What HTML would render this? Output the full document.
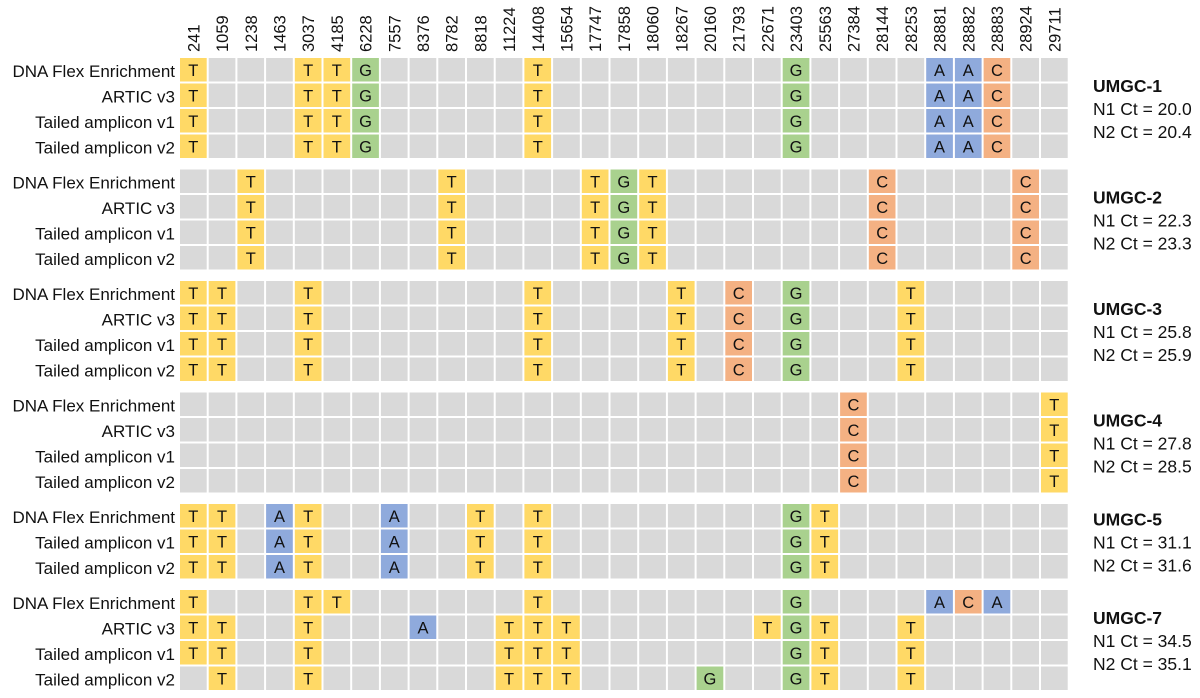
<!DOCTYPE html>
<html><head><meta charset="utf-8"><style>
body{margin:0;background:#fff;}
svg{display:block;font-family:"Liberation Sans",Arial,sans-serif;}
</style></head><body>
<svg id="chart" width="1200" height="698"></svg>
<script>
const positions=[241,1059,1238,1463,3037,4185,6228,7557,8376,8782,8818,11224,14408,15654,17747,17858,18060,18267,20160,21793,22671,23403,25563,27384,28144,28253,28881,28882,28883,28924,29711];
const sampleNames=["UMGC-1","UMGC-2","UMGC-3","UMGC-4","UMGC-5","UMGC-7"];
const n1Ct=["20.0","22.3","25.8","27.8","31.1","34.5"];
const n2Ct=["20.4","23.3","25.9","28.5","31.6","35.1"];
const methodsStd=["DNA Flex Enrichment","ARTIC v3","Tailed amplicon v1","Tailed amplicon v2"];
const methods5=["DNA Flex Enrichment","Tailed amplicon v1","Tailed amplicon v2"];
const u1="0T 4T 5T 6G 12T 21G 26A 27A 28C";
const u2="2T 9T 14T 15G 16T 24C 29C";
const u3="0T 1T 4T 12T 17T 19C 21G 25T";
const u4="23C 30T";
const u5="0T 1T 3A 4T 7A 10T 12T 21G 22T";
const calls=[
 [u1,u1,u1,u1],
 [u2,u2,u2,u2],
 [u3,u3,u3,u3],
 [u4,u4,u4,u4],
 [u5,u5,u5],
 ["0T 4T 5T 12T 21G 26A 27C 28A","0T 1T 4T 8A 11T 12T 13T 20T 21G 22T 25T","0T 1T 4T 11T 12T 13T 21G 22T 25T","1T 4T 11T 12T 13T 18G 21G 22T 25T"]
];
const colors={T:"#ffd966",G:"#a9d18e",A:"#8faadc",C:"#f4b183"};
const NS="http://www.w3.org/2000/svg";
const svg=document.getElementById("chart");
const x0=180,pitch=28.7,cw=26.7,rowH=25.5,y0=58,gap=9.5;
function xCol(i){return x0+i*pitch;}
function mk(tag,attrs,parent){const e=document.createElementNS(NS,tag);for(const k in attrs)e.setAttribute(k,attrs[k]);(parent||svg).appendChild(e);return e;}
positions.forEach((p,i)=>{
 const t=mk("text",{x:0,y:0,"font-size":"16.5","text-anchor":"start",fill:"#111",transform:`translate(${xCol(i)+cw/2+6},52) rotate(-90)`});
 
 
 t.textContent=p;
});
let y=y0;
calls.forEach((block,b)=>{
 const names=block.length===3?methods5:methodsStd;
 const top=y;
 block.forEach((row,r)=>{
  const ry=y+r*rowH;
  const lab=mk("text",{x:175,y:ry+rowH/2+6,"font-size":"17","text-anchor":"end",fill:"#111"});
  
  
  lab.textContent=names[r];
  const m={};row.split(" ").forEach(s=>{m[parseInt(s)]=s.replace(/\d+/,"");});
  positions.forEach((p,i)=>{
   const base=m[i];
   const c=mk("rect",{x:xCol(i),y:ry,width:cw,height:rowH-2,fill:base?colors[base]:"#d9d9d9"});
   
   
   if(base){
    const t=mk("text",{x:xCol(i)+cw/2,y:ry+rowH/2+5,"font-size":"16.5","text-anchor":"middle",fill:"#111"});
    
    
    t.textContent=base;
   }
  });
 });
 const h=block.length*rowH;
 const cy=top+h/2;
 const g=mk("g",{});
 
 
 const t1=mk("text",{x:1093,y:cy-17,"font-size":"17.5","font-weight":"bold",fill:"#111"},g);t1.textContent=sampleNames[b];
 const t2=mk("text",{x:1093,y:cy+6,"font-size":"17.5",fill:"#111"},g);t2.textContent="N1 Ct = "+n1Ct[b];
 const t3=mk("text",{x:1093,y:cy+29,"font-size":"17.5",fill:"#111"},g);t3.textContent="N2 Ct = "+n2Ct[b];
 y+=h+gap;
});
</script>
</body></html>
